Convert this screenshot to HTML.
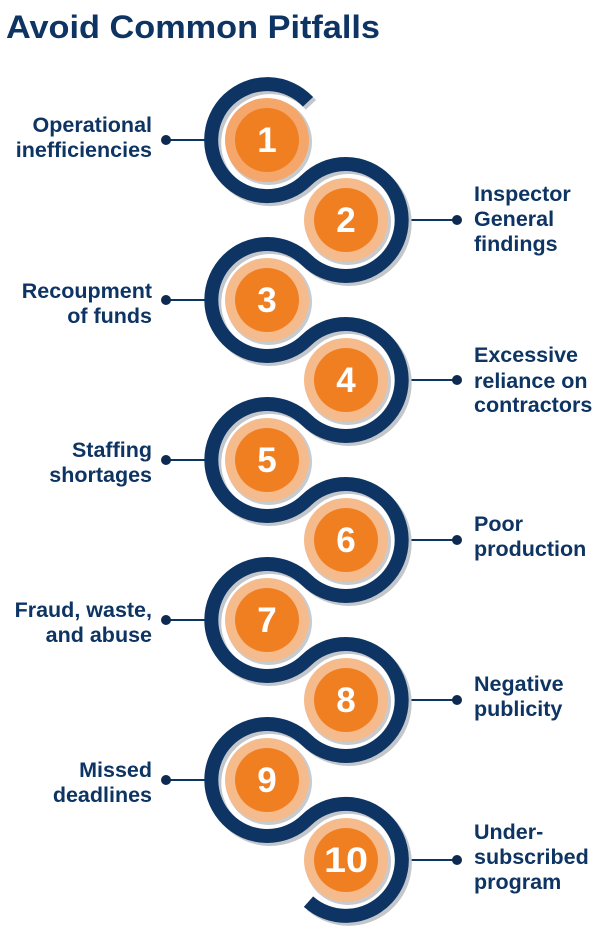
<!DOCTYPE html>
<html><head><meta charset="utf-8"><style>
html,body{margin:0;padding:0;background:#fff;}
svg{display:block;}
text{font-family:"Liberation Sans",sans-serif;font-weight:bold;fill:#0d3463;}
.l{font-size:21.5px;text-anchor:end;}
.r{font-size:21.5px;text-anchor:start;}
.n{font-size:35px;fill:#fff;text-anchor:middle;}
</style></head><body>
<svg width="600" height="933" viewBox="0 0 600 933" xmlns="http://www.w3.org/2000/svg">
<text x="6" y="38" style="font-size:32px" textLength="374" lengthAdjust="spacingAndGlyphs">Avoid Common Pitfalls</text>

<g stroke="#0d3463" stroke-width="2">
<line x1="166" y1="140" x2="212" y2="140"/><line x1="166" y1="300" x2="212" y2="300"/><line x1="166" y1="460" x2="212" y2="460"/><line x1="166" y1="620" x2="212" y2="620"/><line x1="166" y1="780" x2="212" y2="780"/>
<line x1="400" y1="220" x2="457" y2="220"/><line x1="400" y1="380" x2="457" y2="380"/><line x1="400" y1="540" x2="457" y2="540"/><line x1="400" y1="700" x2="457" y2="700"/><line x1="400" y1="860" x2="457" y2="860"/>
</g>
<g fill="#0d2a52">
<circle cx="166" cy="140" r="5"/><circle cx="166" cy="300" r="5"/><circle cx="166" cy="460" r="5"/><circle cx="166" cy="620" r="5"/><circle cx="166" cy="780" r="5"/>
<circle cx="457" cy="220" r="5"/><circle cx="457" cy="380" r="5"/><circle cx="457" cy="540" r="5"/><circle cx="457" cy="700" r="5"/><circle cx="457" cy="860" r="5"/>
</g>

<path d="M308 101.8 A56 56 0 1 0 306.5 180 A56 56 0 1 1 306.5 260 A56 56 0 1 0 306.5 340 A56 56 0 1 1 306.5 420 A56 56 0 1 0 306.5 500 A56 56 0 1 1 306.5 580 A56 56 0 1 0 306.5 660 A56 56 0 1 1 306.5 740 A56 56 0 1 0 306.5 820 A56 56 0 1 1 308.5 901.6" fill="none" stroke="#c3c7cb" stroke-width="14" transform="translate(3,3)"/>
<path d="M308 101.8 A56 56 0 1 0 306.5 180 A56 56 0 1 1 306.5 260 A56 56 0 1 0 306.5 340 A56 56 0 1 1 306.5 420 A56 56 0 1 0 306.5 500 A56 56 0 1 1 306.5 580 A56 56 0 1 0 306.5 660 A56 56 0 1 1 306.5 740 A56 56 0 1 0 306.5 820 A56 56 0 1 1 308.5 901.6" fill="none" stroke="#0d3463" stroke-width="14"/>

<g>
<g transform="translate(267,140)"><circle cx="2" cy="2" r="43" fill="#c8cbce"/><circle r="42" fill="#f4a66b"/><circle r="32" fill="#f07f22"/><text class="n" y="12">1</text></g>
<g transform="translate(346,220)"><circle cx="2" cy="2" r="43" fill="#c8cbce"/><circle r="42" fill="#f6bb8c"/><circle r="32" fill="#f07f22"/><text class="n" y="12">2</text></g>
<g transform="translate(267,300)"><circle cx="2" cy="2" r="43" fill="#c8cbce"/><circle r="42" fill="#f6bb8c"/><circle r="32" fill="#f07f22"/><text class="n" y="12">3</text></g>
<g transform="translate(346,380)"><circle cx="2" cy="2" r="43" fill="#c8cbce"/><circle r="42" fill="#f6bb8c"/><circle r="32" fill="#f07f22"/><text class="n" y="12">4</text></g>
<g transform="translate(267,460)"><circle cx="2" cy="2" r="43" fill="#c8cbce"/><circle r="42" fill="#f6bb8c"/><circle r="32" fill="#f07f22"/><text class="n" y="12">5</text></g>
<g transform="translate(346,540)"><circle cx="2" cy="2" r="43" fill="#c8cbce"/><circle r="42" fill="#f6bb8c"/><circle r="32" fill="#f07f22"/><text class="n" y="12">6</text></g>
<g transform="translate(267,620)"><circle cx="2" cy="2" r="43" fill="#c8cbce"/><circle r="42" fill="#f6bb8c"/><circle r="32" fill="#f07f22"/><text class="n" y="12">7</text></g>
<g transform="translate(346,700)"><circle cx="2" cy="2" r="43" fill="#c8cbce"/><circle r="42" fill="#f6bb8c"/><circle r="32" fill="#f07f22"/><text class="n" y="12">8</text></g>
<g transform="translate(267,780)"><circle cx="2" cy="2" r="43" fill="#c8cbce"/><circle r="42" fill="#f6bb8c"/><circle r="32" fill="#f07f22"/><text class="n" y="12">9</text></g>
<g transform="translate(346,860)"><circle cx="2" cy="2" r="43" fill="#c8cbce"/><circle r="42" fill="#f6bb8c"/><circle r="32" fill="#f07f22"/><text class="n" y="12" textLength="44" lengthAdjust="spacingAndGlyphs">10</text></g>
</g>

<text class="l" x="152" y="132">Operational</text><text class="l" x="152" y="157">inefficiencies</text>
<text class="l" x="152" y="298">Recoupment</text><text class="l" x="152" y="323">of funds</text>
<text class="l" x="152" y="457">Staffing</text><text class="l" x="152" y="482">shortages</text>
<text class="l" x="152" y="617">Fraud, waste,</text><text class="l" x="152" y="642">and abuse</text>
<text class="l" x="152" y="777">Missed</text><text class="l" x="152" y="802">deadlines</text>
<text class="r" x="474" y="201">Inspector</text><text class="r" x="474" y="226">General</text><text class="r" x="474" y="251">findings</text>
<text class="r" x="474" y="362">Excessive</text><text class="r" x="474" y="388">reliance on</text><text class="r" x="474" y="412">contractors</text>
<text class="r" x="474" y="531">Poor</text><text class="r" x="474" y="556">production</text>
<text class="r" x="474" y="691">Negative</text><text class="r" x="474" y="716">publicity</text>
<text class="r" x="474" y="839">Under-</text><text class="r" x="474" y="864">subscribed</text><text class="r" x="474" y="889">program</text>
</svg>
</body></html>
